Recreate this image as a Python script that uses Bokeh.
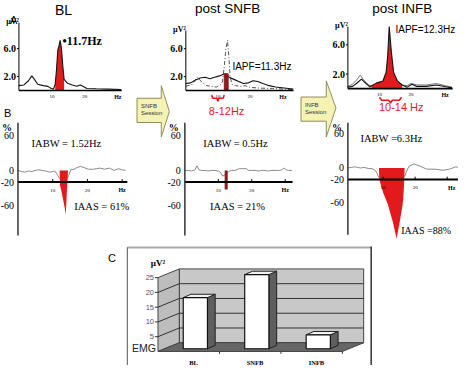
import numpy as np
from bokeh.plotting import figure
from bokeh.models import Range1d
from bokeh.core.properties import value
from bokeh.embed import file_html
from bokeh.resources import INLINE

# ---------------- data ----------------
# A: power spectra (µV²) against frequency (Hz)
BL_HZ = [0, 1.5, 2.9, 3.9, 4.7, 5.7, 7.4, 8.8, 9.8, 10.5, 11.0, 11.4, 11.8, 12.2, 12.5,
         12.9, 13.3, 13.7, 14.7, 16.2, 17.6, 18.6, 19.4, 20.6, 23.5, 27, 31]
BL_PWR = [0.7, 0.8, 1.4, 2.1, 1.6, 0.9, 0.7, 0.6, 0.3, 0.2, 0.9, 3.0, 5.8, 6.5, 7.2,
          6.0, 3.5, 1.6, 1.05, 0.8, 0.6, 0.8, 0.6, 0.3, 0.25, 0.2, 0.15]
BL_BAND = [11.0, 13.7]

SNFB_HZ = [0, 1.5, 3, 4.5, 6, 7.5, 9, 10.5, 11.5, 12.5, 13.5, 15, 16.5, 18, 19.5, 21,
           22.5, 24, 26, 28, 30, 32, 33.5]
SNFB_PWR = [1.0, 1.1, 1.5, 1.8, 1.9, 1.7, 1.9, 2.1, 2.3, 2.4, 1.9, 1.6, 1.3, 1.0, 1.1,
            1.4, 1.3, 1.0, 0.7, 0.5, 0.4, 0.3, 0.2]
SNFB_REF_HZ = [0, 2, 3.6, 5, 6.5, 8, 9.5, 10.8, 11.4, 12.0, 12.5, 13.0, 13.4, 13.8, 14.4,
               15.5, 17, 18.5, 20, 23, 27, 31, 33.5]
SNFB_REF_PWR = [0.6, 0.9, 1.9, 1.2, 0.7, 0.6, 0.5, 0.8, 1.2, 3.5, 6.0, 7.2, 5.0, 2.0, 0.9,
                0.7, 0.6, 0.7, 0.45, 0.35, 0.3, 0.2, 0.15]
SNFB_PEAK_BAND = [12.0, 13.2]
SNFB_PEAK_PWR = 2.4
SNFB_TRAIN_BAND = [8, 12]

INFB_HZ = [0, 1.5, 3, 4.3, 5.5, 7, 7.5, 9, 11.1, 12.1, 12.6, 13.1, 13.8, 14.5, 15.7,
           17.2, 18.8, 20.3, 21.8, 24.9, 28, 31, 33]
INFB_PWR = [0.2, 0.3, 0.8, 1.3, 0.8, 0.2, 0.4, 0.75, 1.05, 2.2, 4.4, 8.5, 4.9, 2.2, 1.05,
            0.5, 0.2, 0.6, 0.3, 0.3, 0.5, 0.25, 0.1]
INFB_REF_HZ = [0, 1.5, 3, 3.9, 5, 6.5, 8, 10, 14, 17, 18.8, 20, 22, 25, 28, 31, 33]
INFB_REF_PWR = [0.3, 0.6, 1.3, 1.85, 1.2, 0.5, 0.3, 0.4, 0.6, 0.5, 0.4, 0.7, 0.5, 0.5,
                0.7, 0.4, 0.2]
INFB_BAND = [7.5, 17.2]
INFB_TRAIN_BAND = [10, 17]

# B: alpha asymmetry (%) against frequency (Hz)
BL_AS_HZ = [0, 1, 2, 3, 4, 5, 6, 7, 8, 9, 10, 10.6, 11.2, 11.8, 12.0, 14.4, 14.6, 15.2,
            16.2, 17, 18, 19, 20.3, 21.7, 22.6, 23.6, 25, 26.3, 27.7, 29, 30, 31]
BL_AS_VAL = [0, -2, -3, -1, -2, 0, 1, 0, -1, -3, -2, -1, -6, -12, -14, -12, -9, 1,
             2, 5, 7, 5, 2, 2, 3, 4, 2, 4, 0, 3, 1, 0]
BL_RED_HZ = [12.0, 12.1, 12.5, 13.0, 13.4, 13.75, 13.9, 14.1, 14.3, 14.4]
BL_RED_VAL = [0, -25, -35, -50, -62, -76, -60, -35, -15, 0]

SNFB_AS_HZ = [0, 1, 2, 3, 3.6, 4.2, 5, 6, 7, 8, 9, 10, 10.6, 11.3, 11.8, 13.0, 13.3, 14,
              15, 16.3, 17, 18.4, 19, 20, 21, 22, 23, 24, 25, 26, 27, 28, 29, 29.6,
              30.3, 31, 32]
SNFB_AS_VAL = [0, 0, -1, 1, 8, 1, 0, 0, -1, 0, 0, -1, -3, -10, -8, -3, -1, 0,
               0, 3, 3, 3, 0, 0, 0, -1, 0, 0, -1, 0, 0, 0, 1, 4, 1, 0, 0]
SNFB_RED_HZ = [11.9, 11.9, 12.8, 12.8]
SNFB_RED_VAL = [0, -33, -33, 0]

INFB_AS_HZ = [-1, 0, 1, 2, 3, 4, 5.5, 6.5, 7.5, 8.2, 8.6, 12, 16.8, 17.1, 18.1, 19.6,
              21.6, 23.6, 26.2, 28.7, 30.7, 32.7, 33.5]
INFB_AS_VAL = [0, 1, 2, 1, 0, 1, -1, -1, -4, -10, -16, -20, -14, -8, 3, 7,
               3, -2, -2, -4, -2, 2, 1]
INFB_RED_HZ = [8.7, 8.8, 10.0, 11.5, 12.1, 13.0, 14.2, 15.2, 16.1, 16.4, 16.6, 16.7]
INFB_RED_VAL = [0, -20, -42, -63, -75, -92, -122, -92, -63, -42, -20, 0]

AS_THRESHOLD = -20
A_YTICKS = [2.0, 6.0]
B_YTICKS = [60, 0, -20, -60]
HZ_TICKS = [10, 20]

# C: EMG power (µV²)
EMG_CATS = ["BL", "SNFB", "INFB"]
EMG_VALUES = [17.3, 25.1, 4.7]
EMG_TICKS = [5, 10, 15, 20, 25]

# ---------------- styles ----------------
RED = "#e31a1c"
DARKRED = "#8e1b1b"
SERIF = value("Liberation Serif")
SANS = value("Liberation Sans")

p = figure(width=458, height=365, x_range=Range1d(1, 473), y_range=Range1d(379, 2),
           x_axis_location=None, y_axis_location=None, output_backend="svg",
           toolbar_location=None, min_border=0, outline_line_color=None,
           background_fill_color="white")
p.grid.visible = False


def txt(g, x, y, s, size, font=SANS, color="black", align="left", style="normal",
        xo=0, yo=0, baseline="middle"):
    g.text(x=[x], y=[y], text=[s], text_font=font, text_font_size=size,
           text_color=color, text_align=align, text_baseline=baseline,
           text_font_style=style, x_offset=xo, y_offset=yo)


def sub(xs, ys, xp, yp):
    return p.subplot(x_source=Range1d(*xs), y_source=Range1d(*ys),
                     x_target=Range1d(*xp), y_target=Range1d(*yp))


def band_fill(g, hz, vals, band, color):
    hz = np.asarray(hz); vals = np.asarray(vals)
    m = (hz >= band[0]) & (hz <= band[1])
    g.varea(x=hz[m], y1=0, y2=vals[m], fill_color=color)


def brace(g, band, ys, color=RED):
    b0, b1 = band
    w = b1 - b0
    m = (b0 + b1) / 2
    xs = [b0, b0 + 0.1 * w, m - 0.08 * w, m, m + 0.08 * w, b1 - 0.1 * w, b1]
    yy = [ys[0], ys[1], ys[1], ys[2], ys[1], ys[1], ys[0]]
    g.line(xs, yy, line_color=color, line_width=1.6)


def a_axes(g, xmax, ymax, hz_lab):
    g.line([0, 0], [0, ymax], line_color="black", line_width=1)
    g.line([0, xmax], [0, 0], line_color="black", line_width=1.6)
    for t in A_YTICKS:
        g.segment(x0=[0], y0=[t], x1=[-0.6], y1=[t], line_color="black")
        txt(g, 0, t, f"{t:.1f}", "10px", SERIF, align="right", style="bold", xo=-3)
    for t in HZ_TICKS:
        txt(g, t, 0, str(t), "5px", SERIF, align="center", yo=6)
    txt(g, hz_lab, 0, "Hz", "6px", SERIF, align="center", style="bold", yo=6)
    txt(g, 0, ymax, "µV²", "8px", SERIF, align="right", style="bold", xo=0, yo=-1)


# ---------- A panels ----------
a1 = sub((0, 31.2), (0, 9.7), (20, 126), (95, 25))
band_fill(a1, BL_HZ, BL_PWR, BL_BAND, RED)
a1.line(BL_HZ, BL_PWR, line_color="#111", line_width=1.1)
a_axes(a1, 31.2, 9.7, 30)

a2 = sub((0, 33.6), (0, 8.6), (192, 303), (95, 33))
a2.line(SNFB_REF_HZ, SNFB_REF_PWR, line_color="#555", line_width=1, line_dash="4 2 1 2")
a2.line(SNFB_HZ, SNFB_PWR, line_color="#111", line_width=1.1)
a2.quad(left=[SNFB_PEAK_BAND[0]], right=[SNFB_PEAK_BAND[1]], bottom=[0],
        top=[SNFB_PEAK_PWR], fill_color=DARKRED, line_color=DARKRED)
a_axes(a2, 33.6, 8.6, 30.3)
brace(a2, SNFB_TRAIN_BAND, (-0.65, -1.1, -1.55))

a3 = sub((0, 33.2), (0, 8.5), (359, 467), (93, 29))
a3.line(INFB_REF_HZ, INFB_REF_PWR, line_color="#777", line_width=1)
band_fill(a3, INFB_HZ, INFB_PWR, INFB_BAND, RED)
a3.line(INFB_HZ, INFB_PWR, line_color="#111", line_width=1.1)
a_axes(a3, 33.2, 8.5, 30.8)
brace(a3, INFB_TRAIN_BAND, (-1.2, -1.6, -2.0))

# ---------- B panels ----------
def b_panel(xs, ys, xp, yp, hz, vals, rhz, rvals, rcolor, hz_lab):
    g = sub(xs, ys, xp, yp)
    x0, x1 = xs
    g.line(hz, vals, line_color="#8a8a8a", line_width=1)
    g.varea(x=rhz, y1=0, y2=rvals, fill_color=rcolor)
    g.line([x0, x1], [AS_THRESHOLD, AS_THRESHOLD], line_color="black", line_width=2)
    g.line([x0, x0], [ys[0], ys[1]], line_color="#333", line_width=1.5)
    for t in [10, 20, 30]:
        g.segment(x0=[t], y0=[AS_THRESHOLD], x1=[t], y1=[AS_THRESHOLD + 5], line_color="black")
    for t in B_YTICKS:
        txt(g, x0, t, str(t), "10px", SERIF, align="right", xo=-4)
    txt(g, x0, ys[1], "%", "10px", SERIF, align="right", xo=-6, yo=5, style="bold")
    for t in HZ_TICKS:
        txt(g, t, AS_THRESHOLD, str(t), "5px", SERIF, align="center", yo=8)
    txt(g, hz_lab, AS_THRESHOLD, "Hz", "6px", SERIF, align="center", style="bold", yo=8)
    return g

b_panel((0, 31.5), (-112, 82), (19, 131.7), (244.7, 128.3),
        BL_AS_HZ, BL_AS_VAL, BL_RED_HZ, BL_RED_VAL, RED, 30)
b_panel((0, 32.2), (-112, 82), (191, 302), (244.7, 128.3),
        SNFB_AS_HZ, SNFB_AS_VAL, SNFB_RED_HZ, SNFB_RED_VAL, DARKRED, 30)
b_panel((-1, 33.5), (-115, 78), (359, 472.9), (244, 128.2),
        INFB_AS_HZ, INFB_AS_VAL, INFB_RED_HZ, INFB_RED_VAL, RED, 31.4)

# ---------- session arrows ----------
for (xl, xr, yt, yb, ht, tip, hb, l1, l2) in [
        (141.7, 166.7, 103, 128, 90, (175, 116.7), 143, "SNFB", "Session"),
        (310.7, 336.7, 101.7, 126.7, 85, (346.7, 113), 143, "INFB", "Session")]:
    p.patch([xl, xr, xr, tip[0], xr, xr, xl], [yt, yt, ht, tip[1], hb, yb, yb],
            fill_color="#f6f2b4", line_color="#8f8f5a", line_width=1)
    txt(p, xl + 4, yt + 8, l1, "6px", SANS, color="#333")
    txt(p, xl + 4, yt + 15, l2, "6px", SANS, color="#333")

# ---------- C: EMG bar chart ----------
p.line([131.7, 383], [257, 257], line_color="#a8a8a8", line_width=2)
p.line([131.7, 131.7], [257, 381], line_color="#555", line_width=1)
p.line([383, 383], [256, 381], line_color="#333", line_width=1.5)

c = sub((0, 3), (0, 25), (163.3, 353.3), (364.5, 288.25))
DX, DY = 0.347, 2.95
c.quad(left=[DX], right=[3 + DX], bottom=[DY], top=[25 + DY],
       fill_color="#c8c8c8", line_color="#444", line_width=1)
c.patch([0, DX, DX, 0], [0, DY, 25 + DY, 25], fill_color="#bdbdbd",
        line_color="#444", line_width=1)
c.patch([0, 3, 3 + DX, DX], [0, 0, DY, DY], fill_color="#666666",
        line_color="#444", line_width=1)
for t in EMG_TICKS[:-1]:
    c.segment(x0=[DX], y0=[t + DY], x1=[3 + DX], y1=[t + DY], line_color="#333", line_width=1)
    c.segment(x0=[0], y0=[t], x1=[DX], y1=[t + DY], line_color="#333", line_width=1)
for t in EMG_TICKS:
    c.segment(x0=[0], y0=[t], x1=[-0.05], y1=[t], line_color="#333")
    txt(c, 0, t, str(t), "7.5px", SANS, color="#555", align="right", xo=-4)
txt(c, 0, 0, "EMG", "10.5px", SANS, color="#222", align="right", xo=-2, yo=-3)
txt(c, 0, 25, "µV²", "9px", SERIF, align="center", style="bold", yo=-15)
for k in [1, 2, 3]:
    c.segment(x0=[k], y0=[0], x1=[k], y1=[-0.8], line_color="#333")

bx, by, hw, ddx, ddy = 0.108, 0.92, 0.197, 0.126, 1.15
for i, (cat, v) in enumerate(zip(EMG_CATS, EMG_VALUES)):
    cx = i + 0.5 + bx
    c.patch([cx + hw, cx + hw + ddx, cx + hw + ddx, cx + hw],
            [by, by + ddy, by + v + ddy, by + v], fill_color="#5e5e5e",
            line_color="#222", line_width=1)
    c.patch([cx - hw, cx + hw, cx + hw + ddx, cx - hw + ddx],
            [by + v, by + v, by + v + ddy, by + v + ddy], fill_color="#f2f2f2",
            line_color="#222", line_width=1)
    c.quad(left=[cx - hw], right=[cx + hw], bottom=[by], top=[by + v],
           fill_color="white", line_color="#111", line_width=1.2)
    txt(c, cx - 0.03, 0, cat, "6.5px", SERIF, align="center", style="bold", yo=11)

# ---------- titles and annotations ----------
txt(p, 66, 12, "BL", "14px", SANS, align="center")
txt(p, 235, 10, "post SNFB", "13.5px", SANS, align="center")
txt(p, 415, 10, "post INFB", "13.5px", SANS, align="center")
txt(p, 14.5, 22.5, "A", "11px", SANS, align="center")
txt(p, 8.5, 118, "B", "11px", SANS, align="center")
txt(p, 116, 268, "C", "11px", SANS, align="center")

txt(p, 65, 44, "•11.7Hz", "12px", SERIF, style="bold")
txt(p, 240, 70, "IAPF=11.3Hz", "10px", SANS)
txt(p, 408, 32, "IAPF=12.3Hz", "10px", SANS)
txt(p, 234, 116, "8-12Hz", "11px", SANS, color=RED, align="center")
txt(p, 414, 112, "10-14 Hz", "11px", SANS, color=RED, align="center")

txt(p, 33, 150, "IABW = 1.52Hz", "10.5px", SERIF)
txt(p, 77, 215, "IAAS = 61%", "10.5px", SERIF)
txt(p, 210, 150, "IABW = 0.5Hz", "10.5px", SERIF)
txt(p, 217, 215, "IAAS = 21%", "10.5px", SERIF)
txt(p, 372, 145, "IABW =6.3Hz", "10.5px", SERIF)
txt(p, 414, 240, "IAAS =88%", "10px", SERIF)

open("out.html", "w").write(file_html(p, INLINE))
